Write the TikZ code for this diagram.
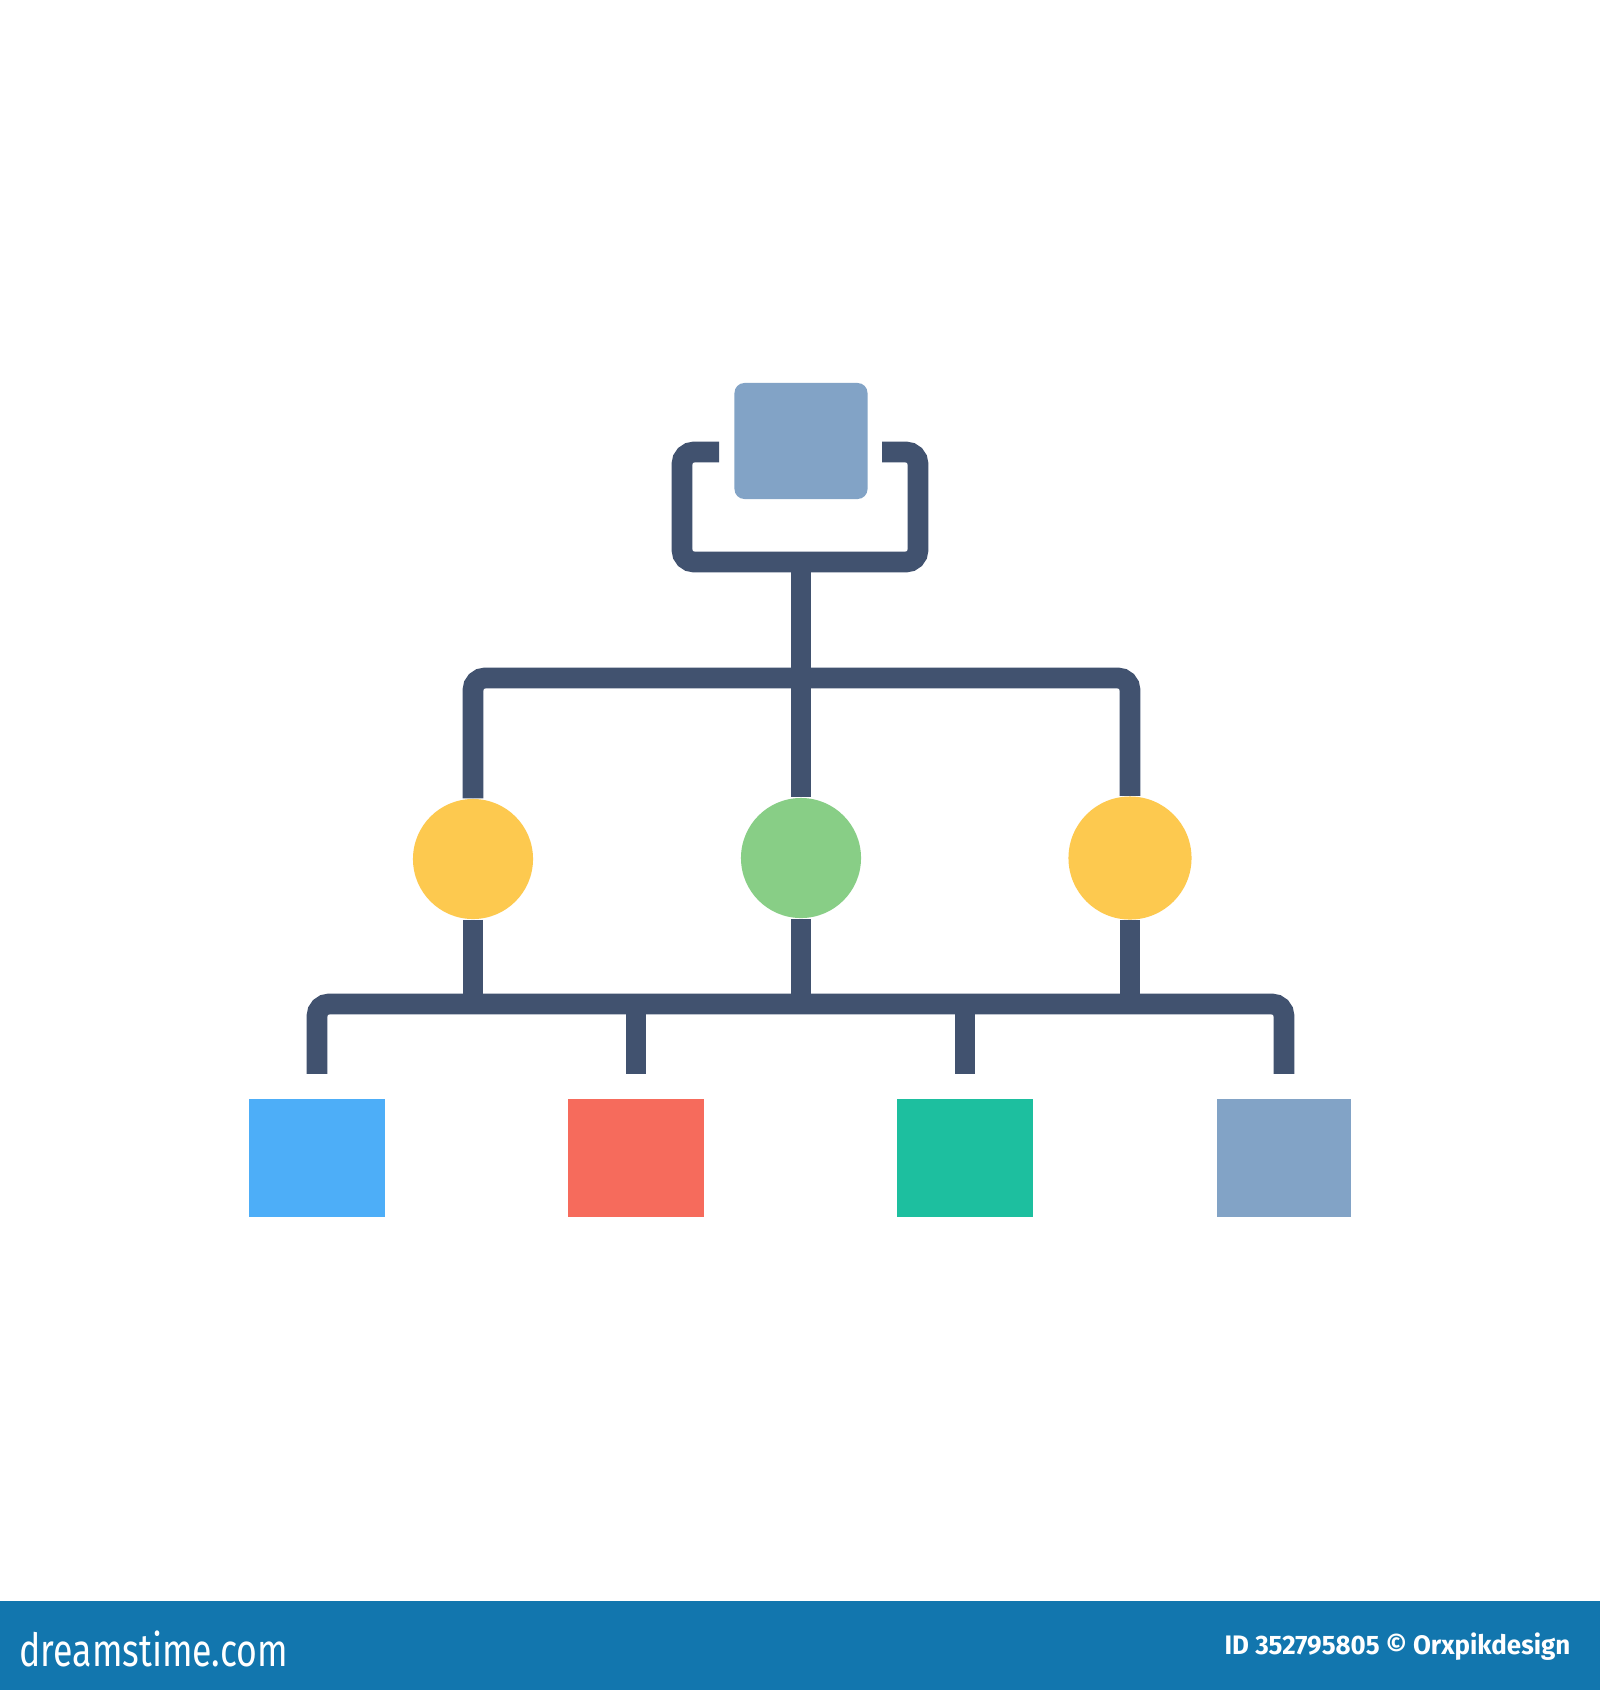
\documentclass[tikz,border=0pt]{standalone}
\usepackage{fontspec}
\setmainfont{Fira Sans}
\definecolor{wire}{HTML}{41526F}
\definecolor{slate}{HTML}{82A3C6}
\definecolor{sun}{HTML}{FDC94F}
\definecolor{leaf}{HTML}{88CE86}
\definecolor{sky}{HTML}{4DAEF8}
\definecolor{coral}{HTML}{F66B5C}
\definecolor{teal}{HTML}{1DBF9F}
\definecolor{banner}{HTML}{1276AE}
\tikzset{
  wireline/.style={draw=wire, line width=5.9pt, rounded corners=0.12cm},
  dot/.style={circle, fill=#1, minimum size=1.2cm, inner sep=0pt},
  tile/.style={rectangle, fill=#1, minimum width=1.36cm, minimum height=1.17cm, inner sep=0pt}
}
\begin{document}
\begin{tikzpicture}[x=0.01cm, y=-0.01cm]
\useasboundingbox (0,0) rectangle (1600,1690);
\fill[white] (0,0) rectangle (1600,1690);
\node[rectangle, fill=slate, rounded corners=0.1cm, minimum width=1.33cm, minimum height=1.16cm] (root) at (801,441) {}; % root
\draw[wireline] (719,452) -- (682,452) -- (682,562) -- (918,562) -- (918,452) -- (882,452) ; % holder
\coordinate (stem) at (801,562);
\coordinate (hub) at (801,678);
\coordinate (bus) at (801,1004);
\node[dot=sun] (left) at (473,859) {};
\node[dot=leaf] (mid) at (801,858) {};
\node[dot=sun, minimum size=1.23cm] (right) at (1130,858) {};
\node[tile=sky] (t1) at (317,1158) {};
\node[tile=coral] (t2) at (636,1158) {};
\node[tile=teal] (t3) at (965,1158) {};
\node[tile=slate, minimum width=1.34cm] (t4) at (1284,1158) {};
\draw[wireline] (stem) -- (mid.north) ; % trunk
\draw[wireline] (left.north) |- (hub) -| (right.north) ; % upper bar
\draw[wireline] (left.south) -- (left.south |- bus) ;
\draw[wireline] (mid.south) -- (mid.south |- bus) ;
\draw[wireline] (right.south) -- (right.south |- bus) ;
\draw[wireline, shorten <=0.25cm, shorten >=0.25cm] (t1.north) |- (bus) -| (t4.north) ; % lower bar
\draw[wireline, shorten >=0.25cm] (t2.north |- bus) -- (t2.north) ;
\draw[wireline, shorten >=0.25cm] (t3.north |- bus) -- (t3.north) ;
\fill[banner] (0,1601) rectangle (1600,1690); % banner
\node[anchor=west, text=white, font=\fontsize{13}{13}\selectfont, xscale=0.78, inner sep=0pt] (site) at (19,1649) {dreamstime.com};
\node[anchor=east, text=white, font=\fontsize{7.6}{8}\selectfont\bfseries, xscale=0.97, inner sep=0pt] (credit) at (1571,1647) {ID 352795805 © Orxpikdesign};
\end{tikzpicture}
\end{document}
